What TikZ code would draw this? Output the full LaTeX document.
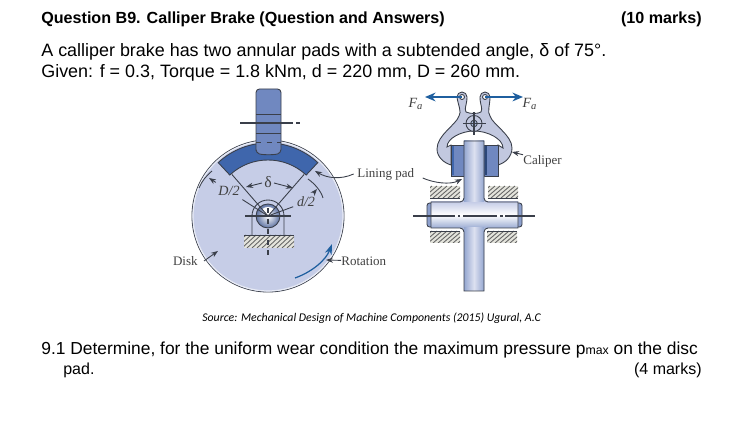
\documentclass[tikz,border=0pt]{standalone}
\usepackage{fontspec}
\setmainfont{Liberation Sans}
\newfontfamily\bookfont{Liberation Serif}
\newfontfamily\srcfont{Carlito}
\usetikzlibrary{arrows.meta,calc}
\definecolor{diskblue}{HTML}{C6CDE7}
\definecolor{padblue}{HTML}{3F66AC}
\definecolor{armblue}{HTML}{7088C0}
\definecolor{forceblue}{HTML}{1F5F9F}
\definecolor{outlinegray}{HTML}{3A3F4A}
\definecolor{calipergray}{HTML}{C2C8DF}
\definecolor{hatchgray}{HTML}{E4E4DC}
\newcommand{\hatchblock}[4]{%
    \fill[hatchgray] (#1,#2) rectangle (#3,#4);
    \begin{scope}
        \clip (#1,#2) rectangle (#3,#4);
        \foreach \k in {0,5,...,70} {
            \draw[gray!80!black, line width=0.5pt] ({#1+\k-12},#4) -- ({#1+\k+2},#2);
        }
    \end{scope}
}
\tikzset{
    partline/.style={draw=outlinegray, line width=0.5pt},
    dimline/.style={outlinegray, line width=0.5pt},
    leader/.style={outlinegray, line width=0.5pt, -{Stealth[length=4pt,width=3pt]}},
    centreline/.style={outlinegray, line width=0.6pt},
    booklabel/.style={font=\bookfont\fontsize{7.4}{9}\selectfont, text=black!75, inner sep=0pt},
    dimlabel/.style={font=\bookfont\itshape\fontsize{8}{9}\selectfont, text=black!75, inner sep=2pt},
    headtext/.style={font=\bfseries\fontsize{9.17}{11}\selectfont, anchor=base west, inner sep=0pt},
    bodytext/.style={font=\fontsize{10.2}{12}\selectfont, anchor=base west, inner sep=0pt},
    forcearrow/.style={forceblue, line width=0.9pt, -{Stealth[length=6pt,width=5pt]}},
}
\begin{document}
\begin{tikzpicture}[x=0.02cm, y=-0.02cm]
    \useasboundingbox (0,0) rectangle (751,448);

    % Question text
    \node[headtext] (title) at (41,24) {Question B9. Calliper Brake (Question and Answers)};
    \node[headtext, anchor=base east] (marksA) at (702,24) {(10 marks)};
    \node[bodytext] (lineA) at (41,57) {A calliper brake has two annular pads with a subtended angle, δ of 75°.};
    \node[bodytext] (lineB) at (41,78) {Given: f = 0.3, Torque = 1.8 kNm, d = 220 mm, D = 260 mm.};
    \node[font=\srcfont\itshape\fontsize{6.72}{9}\selectfont, anchor=base west, inner sep=0pt] (source) at (202,322) {Source: Mechanical Design of Machine Components (2015) Ugural, A.C};
    \node[bodytext, font=\fontsize{9.9}{12}\selectfont] (lineC) at (41,355) {9.1 Determine, for the uniform wear condition the maximum pressure p{\fontsize{7}{9}\selectfont max} on the disc};
    \node[bodytext, font=\fontsize{9.1}{12}\selectfont] (lineD) at (63,375) {pad.};
    \node[bodytext, font=\fontsize{9.1}{12}\selectfont, anchor=base east] (marksB) at (702,375) {(4 marks)};

    % Disk
    \coordinate (hubc) at (268,216);
    \filldraw[fill=diskblue, partline] (hubc) circle (76);
    \draw[white!60!diskblue, line width=0.7pt] (hubc) circle (75);

    % Lining pad
    \filldraw[fill=padblue, partline] ($(hubc)+(227:73)$) arc (227:313:73) -- ($(hubc)+(313:56)$) arc (313:227:56) -- cycle;

    % Arm
    \filldraw[fill=armblue, partline, rounded corners=2pt] (256,153) -- (256,89) -- (281,89) -- (281,153) .. controls (274,155) and (263,155) .. (256,153) -- cycle;
    \draw[partline] (256,114) -- (281,114);
    \draw[partline] (256,133) -- (281,133);
    \draw[centreline, dash pattern=on 30pt off 2pt on 2pt off 2pt on 10pt off 3pt on 5pt] (240,123) -- (303,123);
    \draw[partline, dashed] (256,142) -- (281,142);

    % Hub
    \hatchblock{244}{235}{294}{248}
    \draw[partline] (244,235) -- (294,235);
    \draw[partline] (252,235) -- (252,216) arc (180:360:16) -- (284,235);
    \shade[inner color=white, outer color=armblue!85!black] (hubc) circle (12);
    \fill[white] (hubc) -- ($(hubc)+(230:9)$) arc (230:310:9) -- cycle;
    \draw[partline] (hubc) circle (12);
    \draw[centreline] (245,216) -- (291,216);
    \draw[centreline, dashed] (268,208) -- (268,256);

    % Dimension lines
    \draw[dimline] (hubc) -- ($(hubc)+(229:55)$);
    \draw[dimline] (hubc) -- ($(hubc)+(311:55)$);
    \draw[dimline] (199,188) .. controls (202,181) and (206,176) .. (212,171);
    \draw[dimline] (308,179) .. controls (315,184) and (321,191) .. (323,198);
    \coordinate (Dtip) at (209,178);
    \coordinate (dtip) at (317,189);
    \coordinate (deltaL) at (246,187);
    \coordinate (deltaR) at (293,188);
    \node[dimlabel] (labelD) at (229,191) {D/2};
    \node[dimlabel] (labeld) at (306,202) {d/2};
    \node[dimlabel, font=\bookfont\fontsize{9}{9}\selectfont] (labeldelta) at (268,182) {δ};
    \draw[leader] (labelD) -- (Dtip);
    \draw[leader] (labeld) -- (dtip);
    \draw[leader] (labeldelta) ++(-6,1) -- (deltaL);
    \draw[leader] (labeldelta) ++(6,1) -- (deltaR);
    \draw[dimline] (labelD) -- (hubc);
    \draw[dimline] (labeld) -- (hubc);

    % Rotation and labels of the disk
    \coordinate (rotA) at (295,278);
    \coordinate (rotB) at (332,244);
    \draw[forceblue, line width=0.7pt, -{Stealth[length=6pt,width=4pt]}] (rotA) .. controls (312,272) and (326,260) .. (rotB);
    \node[booklabel, anchor=west] (rotation) at (341,261) {Rotation};
    \coordinate (rottip) at (326,260);
    \draw[leader] (rotation) -- (rottip);
    \node[booklabel, anchor=east] (disk) at (198,261) {Disk};
    \coordinate (disktip) at (218,251);
    \draw[leader] (disk.east) ++(6,0) -- (disktip);
    \node[booklabel, anchor=west] (lining) at (357,174) {Lining pad};
    \coordinate (liningA) at (315,171);
    \coordinate (liningB) at (462,179);
    \draw[leader] (lining) ++(-32,0) .. controls (340,180) and (327,178) .. (liningA);
    \draw[leader] (lining) ++(37,4) .. controls (434,183) and (450,185) .. (liningB);

    % Caliper
    \filldraw[fill=calipergray, partline] (457,97) .. controls (458,105) and (462,112) .. (459,116) .. controls (456,125) and (437,135) .. (437,149) .. controls (437,157) and (444,163) .. (451,165) -- (451,145) -- (447,147) .. controls (447,138) and (462,131) .. (474,131) .. controls (488,131) and (503,139) .. (503,148) -- (498,145) -- (498,165) .. controls (505,163) and (512,157) .. (512,148) .. controls (512,135) and (493,125) .. (490,116) .. controls (487,112) and (490,105) .. (490,97) arc (0:-180:5) .. controls (480,105) and (483,108) .. (481,112) .. controls (478,114) and (470,114) .. (466,112) .. controls (464,108) and (467,105) .. (467,97) arc (0:-180:5) -- cycle;
    \filldraw[fill=white, partline] (462,97) circle (2.5);
    \filldraw[fill=white, partline] (485,97) circle (2.5);
    \filldraw[fill=calipergray, partline] (474,123.5) circle (8);
    \filldraw[fill=armblue!60, partline] (474,123.5) circle (3.3);
    \draw[centreline] (463,123.5) -- (486,123.5);
    \draw[centreline] (474,112) -- (474,135);

    % Forces
    \coordinate (earL) at (462,97);
    \coordinate (earR) at (485,97);
    \coordinate (forceL) at (425,97);
    \coordinate (forceR) at (523,97);
    \draw[forcearrow] (earL) -- (forceL);
    \draw[forcearrow] (earR) -- (forceR);
    \node[dimlabel] (forceLabelL) at (416,104) {F\textsubscript{a}};
    \node[dimlabel] (forceLabelR) at (530,104) {F\textsubscript{a}};

    % Pads of the side view
    \filldraw[fill=armblue, partline] (451,145) rectangle (464,176);
    \fill[padblue] (451.5,146) rectangle (454,175);
    \filldraw[fill=armblue, partline] (484,145) rectangle (498,176);
    \fill[padblue!70!black] (484,146) rectangle (487,175);

    % Bearings
    \foreach \xa/\xb/\ya/\yb/\yl in {430/460/186/198/198, 488/518/186/198/198, 430/460/231/243/231, 487/517/231/243/231} {
        \hatchblock{\xa}{\ya}{\xb}{\yb}
        \draw[partline] (\xa,\yl) -- (\xb,\yl);
    }

    % Shaft and disk, side view
    \filldraw[fill=armblue!80, partline, rounded corners=1.5pt] (427,203) rectangle (433,227);
    \filldraw[fill=armblue!80, partline, rounded corners=1.5pt] (516,203) rectangle (522,227);
    \def\crossoutline{(464,141) -- (464,198) arc (0:90:4) -- (431,202) -- (431,228) -- (460,228) arc (-90:0:4) -- (464,291) -- (484,291) -- (484,232) arc (180:270:4) -- (518,228) -- (518,202) -- (488,202) arc (90:180:4) -- (484,141) -- cycle}
    \fill[armblue!55] \crossoutline;
    \shade[top color=diskblue, bottom color=armblue!70, middle color=white] (431,202) rectangle (518,228);
    \shade[left color=armblue!75, right color=armblue!75, middle color=diskblue!60] (464,141) rectangle (484,202);
    \shade[left color=armblue!75, right color=armblue!75, middle color=diskblue!60] (464,228) rectangle (484,291);
    \draw[partline] \crossoutline;
    \draw[centreline, dash pattern=on 24pt off 1.5pt on 1.5pt off 1.5pt on 19.5pt off 1.5pt on 1.5pt off 1.5pt on 30pt] (413,216) -- (535,216);

    % Caliper label
    \node[booklabel, anchor=west] (caliper) at (523,161) {Caliper};
    \coordinate (calipertip) at (512,152);
    \draw[leader] (caliper.north west) -- (calipertip);

\end{tikzpicture}
\end{document}
